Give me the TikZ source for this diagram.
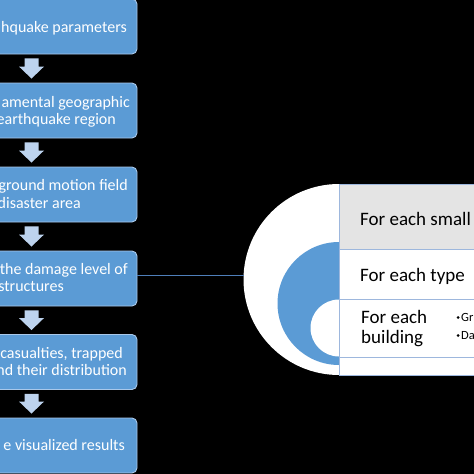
\documentclass[tikz,border=0pt]{standalone}
\usepackage{fontspec}
\setmainfont{Carlito}
\usetikzlibrary{calc}
\definecolor{boxblue}{HTML}{5B9BD5}
\definecolor{boxedge}{HTML}{A9C8EA}
\definecolor{arrowblue}{HTML}{BDD3EE}
\definecolor{linecol}{HTML}{9DB7DD}
\definecolor{rowgray}{HTML}{E4E4E4}
\definecolor{conn}{HTML}{4F7FBA}
\newcommand\flowarrow[2]{%
  \fill[arrowblue] ($(#1.south)+(-7,4)$) -- ($(#1.south)+(7,4)$)
    -- ($(#2.north)+(7,-16)$) -- ($(#2.north)+(12.5,-16)$) -- ($(#2.north)+(0,-4)$)
    -- ($(#2.north)+(-12.5,-16)$) -- ($(#2.north)+(-7,-16)$) -- cycle;}
\begin{document}
\begin{tikzpicture}[x=1pt,y=-1pt,
  flowbox/.style={draw=boxedge, line width=0.9pt, fill=boxblue, rounded corners=5pt,
    minimum width=211pt, minimum height=55pt, inner sep=0pt},
  ftext/.style={text=white, font=\fontsize{16}{19}\selectfont, anchor=base east, inner sep=0pt},
  rowbox/.style={draw=linecol, line width=1.2pt, anchor=north west, minimum width=220pt, inner sep=0pt},
  rtext/.style={text=black, font=\fontsize{19}{21}\selectfont, anchor=base west, inner sep=0pt},
  btext/.style={text=black, font=\fontsize{12.5}{14}\selectfont, anchor=base west, inner sep=0pt}]
\useasboundingbox (0,0) rectangle (474,474);
\fill[black] (0,0) rectangle (474,474);
\clip (0,0) rectangle (474,474);
% flowchart boxes
\node[flowbox] (b1) at (31.5,26.5) {};
\node[flowbox] (b2) at (31.5,110.5) {};
\node[flowbox] (b3) at (31.5,194.5) {};
\node[flowbox] (b4) at (31.5,278.5) {};
\node[flowbox] (b5) at (31.5,362) {};
\node[flowbox] (b6) at (31.5,445.5) {};
\flowarrow{b1}{b2}
\flowarrow{b2}{b3}
\flowarrow{b3}{b4}
\flowarrow{b4}{b5}
\flowarrow{b5}{b6}
% flowchart texts
\node[ftext] (t1) at (127,32) {hquake parameters};
\node[ftext] (t2a) at (130,107) {amental geographic};
\node[ftext] (t2b) at (116,124) {earthquake region};
\node[ftext] (t3a) at (128,190) {ground motion field};
\node[ftext] (t3b) at (81,208) {disaster area};
\node[ftext] (t4a) at (128,274) {the damage level of};
\node[ftext] (t4b) at (64,291) {structures};
\node[ftext] (t5a) at (123,358) {casualties, trapped};
\node[ftext] (t5b) at (127,375) {nd their distribution};
\node[ftext] (t6) at (125,450) {e visualized results};
% nested half discs
\fill[white] (339,279.5) circle[radius=95.5];
\fill[boxblue] (339,303.5) circle[radius=61.5];
\fill[white] (339,328) circle[radius=28.5];
\coordinate (dl) at (243.6,275.5);
\draw[conn, line width=1pt] (b4.east |- dl) -- (dl);
% rows
\node[rowbox, fill=rowgray, minimum height=65pt] (r1) at (339,184) {};
\node[rowbox, fill=white, minimum height=50pt] (r2) at (339,249) {};
\node[rowbox, fill=white, minimum height=58pt] (r3) at (339,299) {};
\node[rowbox, fill=white, minimum height=18pt] (r4) at (339,357) {};
\node[rtext] (s1) at (360,225) {For each small};
\node[rtext] (s2) at (360,281) {For each type};
\node[rtext] (s3a) at (361,323) {For each};
\node[rtext] (s3b) at (361,343) {building};
\fill[black] (458,317.5) circle[radius=1.5];
\fill[black] (458,335.5) circle[radius=1.5];
\node[btext] (u1) at (461,321.5) {Gr};
\node[btext] (u2) at (461,339.5) {Da};
\end{tikzpicture}
\end{document}
